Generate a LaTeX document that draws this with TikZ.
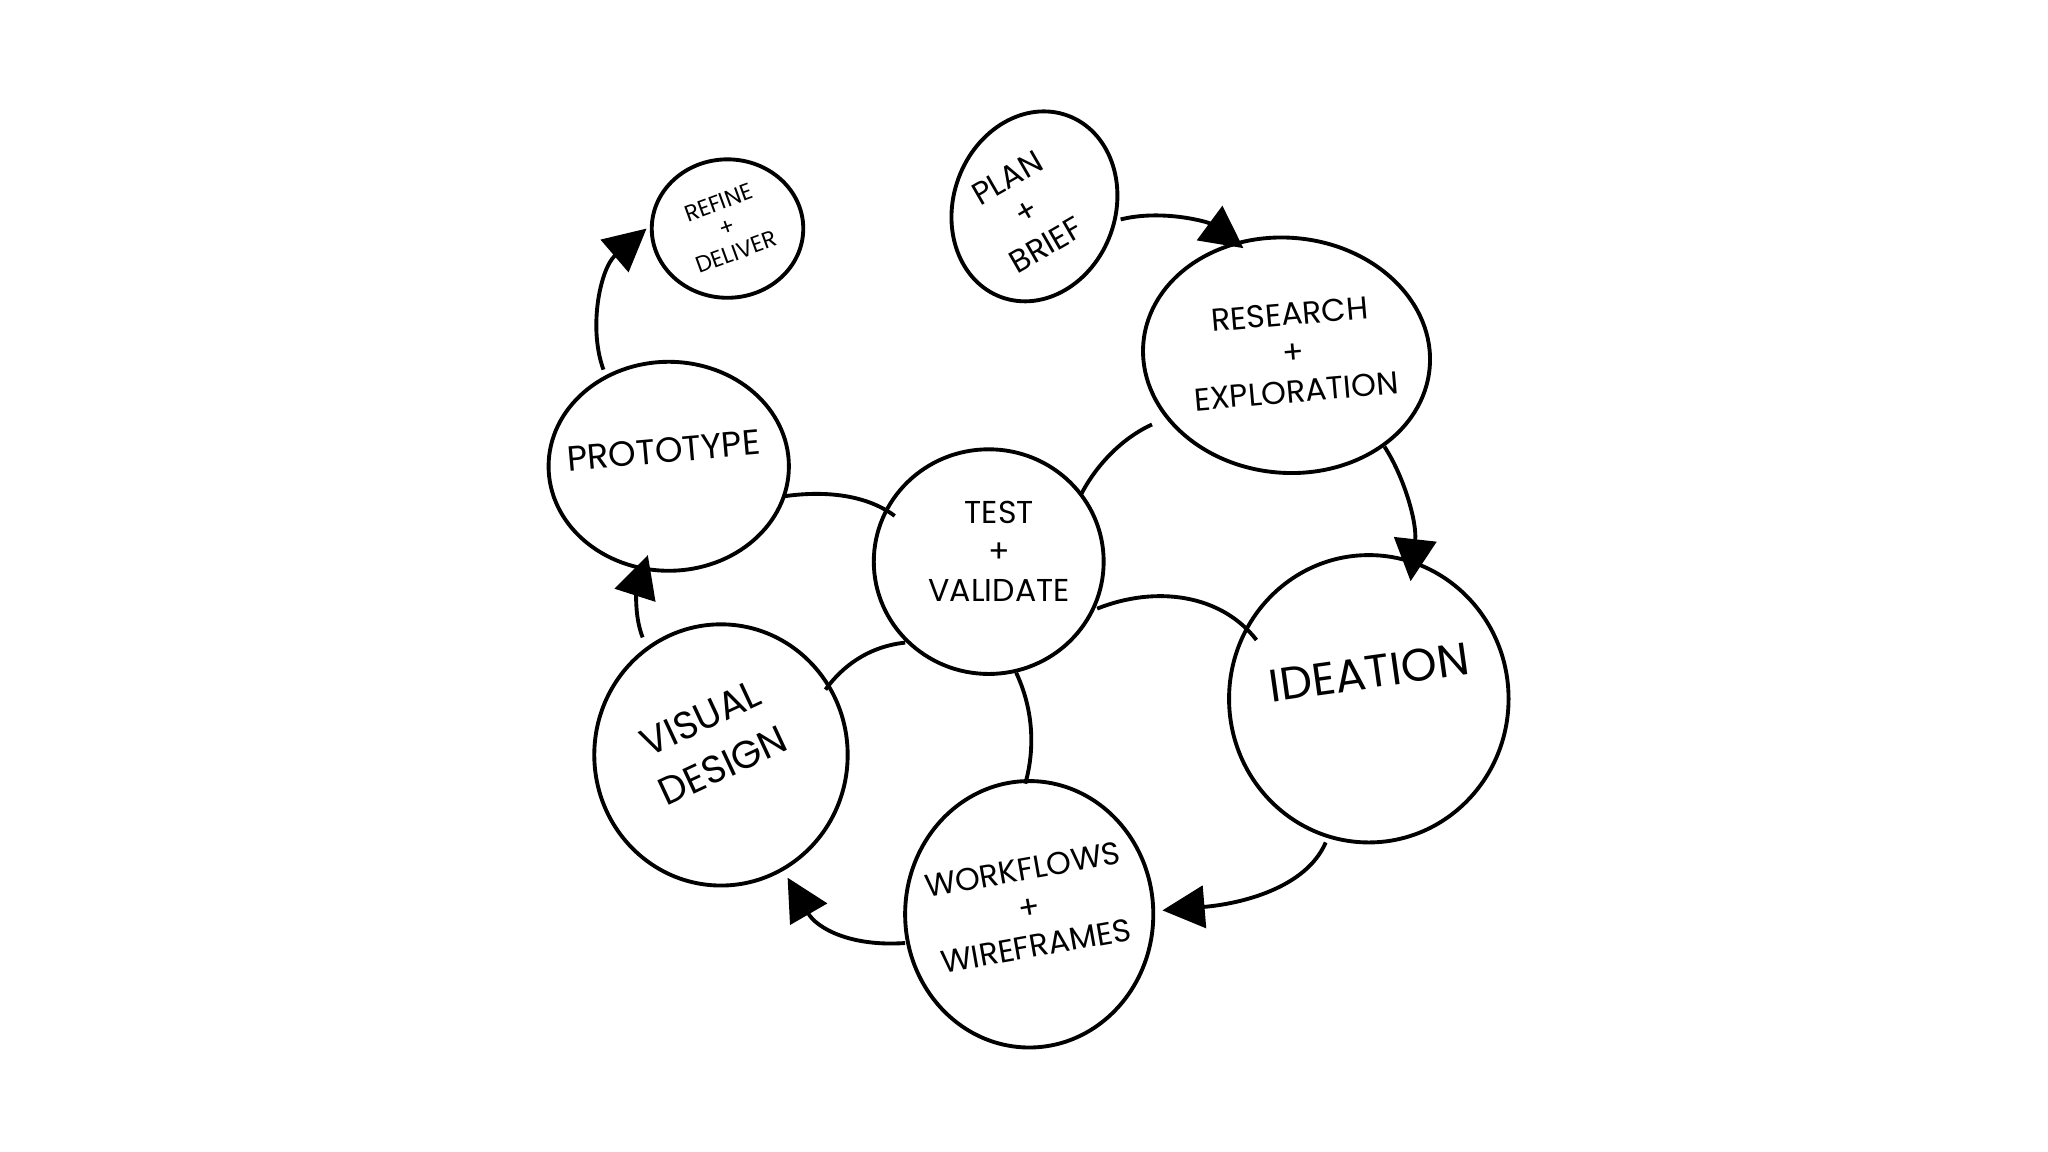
\documentclass[tikz,border=0pt]{standalone}
\usepackage{fontspec}
\setmainfont{Poppins}
\usetikzlibrary{arrows.meta}
\begin{document}
\begin{tikzpicture}[x=0.013061cm,y=-0.013061cm,line width=1.1pt,
  lab/.style={align=center,font=\fontsize{9}{11}\selectfont,inner sep=1pt},
  flow/.style={-{Triangle[length=12pt,width=12pt]}}]
\useasboundingbox (0,0) rectangle (1568,882);
\fill[white] (0,0) rectangle (1568,882);
% bubbles
\draw[rotate around={-20:(792,158)}] (792,158) ellipse [x radius=62,y radius=74];
\draw (557,175) ellipse [x radius=58,y radius=53];
\draw[rotate around={-5:(985,272)}] (985,272) ellipse [x radius=110,y radius=90];
\draw (512,357) ellipse [x radius=92,y radius=80];
\draw (757,430) ellipse [x radius=88,y radius=86];
\draw (1048,535) ellipse [x radius=107,y radius=110];
\draw (552,578) ellipse [x radius=97,y radius=100];
\draw (788,700) ellipse [x radius=95,y radius=102];
% labels
\node[lab,rotate=30] (plan) at (786,162) {PLAN\\+\\BRIEF};
\node[lab,rotate=20,font=\fontsize{6.5}{7.5}\selectfont] (refine) at (557,174) {REFINE\\+\\DELIVER};
\node[lab,rotate=5] (res) at (990,270) {RESEARCH\\+\\EXPLORATION};
\node[lab,rotate=5,font=\fontsize{10}{12}\selectfont] (proto) at (508,345) {PROTOTYPE};
\node[lab] (test) at (765,422) {TEST\\+\\VALIDATE};
\node[lab,rotate=8,font=\fontsize{13}{15}\selectfont] (idea) at (1048,515) {IDEATION};
\node[lab,rotate=25,font=\fontsize{11}{15}\selectfont] (vis) at (545,568) {VISUAL\\DESIGN};
\node[lab,rotate=10] (wf) at (788,695) {WORKFLOWS\\+\\WIREFRAMES};
% flow arcs
\draw[flow] (858,168) .. controls (890,160) and (925,170) .. (952,190);
\draw[flow] (1060,342) .. controls (1075,365) and (1085,400) .. (1080,445);
\draw[flow] (1015,645) .. controls (1000,680) and (950,692) .. (890,697);
\draw[flow] (693,722) .. controls (650,725) and (625,710) .. (603,672);
\draw[flow] (492,488) .. controls (485,470) and (488,450) .. (496,425);
\draw[flow] (462,283) .. controls (450,250) and (460,205) .. (495,175);
% inner links
\draw (600,380) .. controls (635,375) and (665,380) .. (685,395);
\draw (828,378) .. controls (840,355) and (860,335) .. (882,325);
\draw (840,466) .. controls (885,448) and (935,455) .. (962,490);
\draw (778,515) .. controls (792,545) and (792,575) .. (785,600);
\draw (693,492) .. controls (665,495) and (645,510) .. (632,528);
\end{tikzpicture}
\end{document}
